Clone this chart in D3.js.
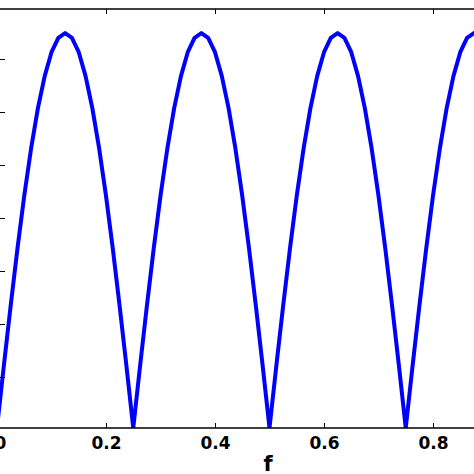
<!DOCTYPE html>
<html><head><meta charset="utf-8">
<script src="https://cdn.jsdelivr.net/npm/d3@7"></script>
<style>body{margin:0;background:#fff}svg{display:block}</style>
</head><body>
<script>
var lobe = [0, 0.117, 0.230, 0.338, 0.438, 0.527, 0.603, 0.664, 0.709, 0.736, 0.745,
            0.736, 0.709, 0.664, 0.603, 0.527, 0.438, 0.338, 0.230, 0.117];
var fVals = [], aVals = [];
for (var i = 0; i <= 72; i++) { fVals.push(+(i * 0.0125).toFixed(4)); aVals.push(lobe[i % 20]); }
var xTicks = [0, 0.2, 0.4, 0.6, 0.8];
var yTicks = [0.1, 0.2, 0.3, 0.4, 0.5, 0.6, 0.7];

var W = 474, H = 474, plotTop = 9, plotBottom = 428;
var x = d3.scaleLinear().domain([0, 0.2]).range([-3, 106]);
var y = d3.scaleLinear().domain([0, 0.1]).range([plotBottom, plotBottom - 53]);

var svg = d3.select("body").append("svg").attr("width", W).attr("height", H);
var data = fVals.map(function(f, i) { return [f, aVals[i]]; });

svg.append("defs").append("clipPath").attr("id", "plotclip").append("rect")
  .attr("x", -5).attr("y", plotTop).attr("width", W + 10).attr("height", plotBottom - plotTop);
svg.append("path").datum(data).attr("clip-path", "url(#plotclip)")
  .attr("fill", "none").attr("stroke", "#0000ff").attr("stroke-width", 4)
  .attr("stroke-linejoin", "round")
  .attr("d", d3.line().x(function(d) { return x(d[0]); }).y(function(d) { return y(d[1]); }));

// frame
svg.append("line").attr("x1", 0).attr("x2", W).attr("y1", plotBottom).attr("y2", plotBottom).attr("stroke", "#000").attr("stroke-width", 1.5);
svg.append("line").attr("x1", 0).attr("x2", W).attr("y1", plotTop).attr("y2", plotTop).attr("stroke", "#000").attr("stroke-width", 1.5);

var xb = d3.axisBottom(x).tickValues(xTicks).tickSizeInner(-5).tickSizeOuter(0).tickPadding(9)
  .tickFormat(function(d) { return d === 0 ? "0" : d3.format(".1f")(d); });
var gx = svg.append("g").attr("transform", "translate(0," + plotBottom + ")").call(xb);
gx.select(".domain").remove();
gx.selectAll("text").attr("font-family", "DejaVu Sans").attr("font-weight", "bold").attr("font-size", 17)
  .attr("dx", function(d) { return d === 0 ? 3 : 0; });
var gt = svg.append("g").attr("transform", "translate(0," + plotTop + ")")
  .call(d3.axisTop(x).tickValues(xTicks).tickSizeInner(-5).tickSizeOuter(0).tickFormat(""));
gt.select(".domain").remove();
var gy = svg.append("g").attr("transform", "translate(0,2)")
  .call(d3.axisRight(y).tickValues(yTicks).tickSizeInner(5).tickSizeOuter(0).tickFormat(""));
gy.select(".domain").remove();

svg.append("text").attr("x", 268).attr("y", 471).attr("text-anchor", "middle")
  .attr("font-family", "DejaVu Sans").attr("font-weight", "bold").attr("font-size", 21).text("f");
</script>
</body></html>
